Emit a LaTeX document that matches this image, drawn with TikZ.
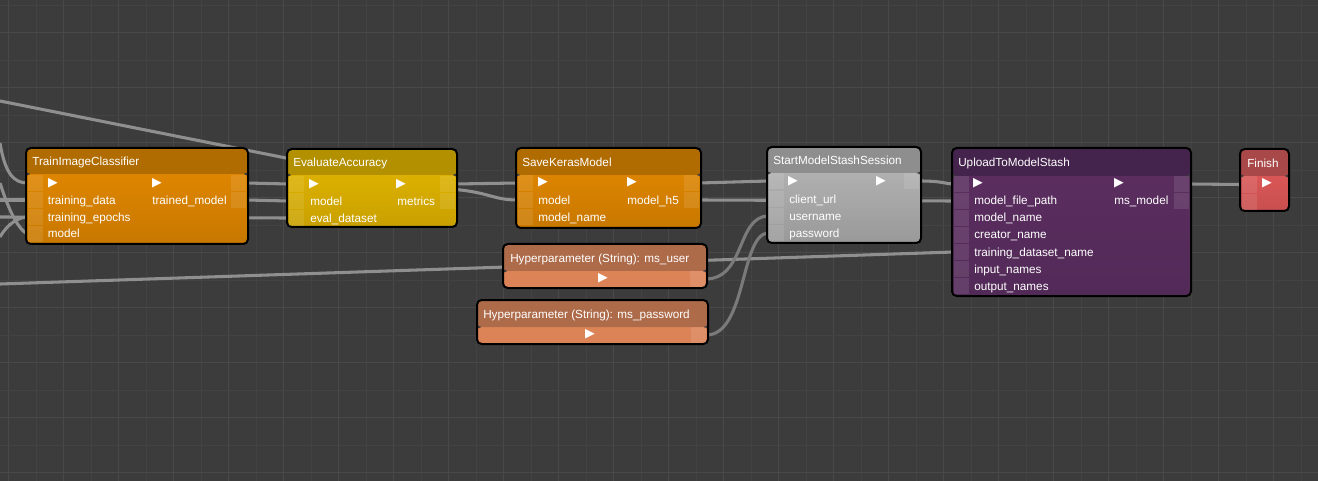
\documentclass[tikz,border=0pt]{standalone}
\usepackage{fontspec}
\setmainfont{Liberation Sans}
\newfontfamily\symbfont{DejaVu Sans}
\usetikzlibrary{fit,backgrounds}
\definecolor{canvasbg}{HTML}{3C3C3C}
\definecolor{gridlo}{HTML}{434343}
\definecolor{gridhi}{HTML}{494949}
\definecolor{wirelit}{HTML}{8F8F8F}
\definecolor{wiredim}{HTML}{7A7A7A}
\definecolor{orangehead}{HTML}{B06C00}
\definecolor{orangetop}{HTML}{E68A00}
\definecolor{orangebot}{HTML}{C87800}
\definecolor{yellowhead}{HTML}{B39000}
\definecolor{yellowtop}{HTML}{E6B800}
\definecolor{yellowbot}{HTML}{C8A000}
\definecolor{salmonhead}{HTML}{AD6B4A}
\definecolor{salmontop}{HTML}{E28859}
\definecolor{salmonbot}{HTML}{DA8256}
\definecolor{greyhead}{HTML}{8E8E8E}
\definecolor{greytop}{HTML}{B8B8B8}
\definecolor{greybot}{HTML}{999999}
\definecolor{plumhead}{HTML}{44234C}
\definecolor{plumtop}{HTML}{5C2E60}
\definecolor{plumbot}{HTML}{522A58}
\definecolor{redhead}{HTML}{A94848}
\definecolor{redtop}{HTML}{E65C5C}
\definecolor{redbot}{HTML}{C84F4F}
\tikzset{
	opbox/.style n args={4}{draw=black,line width=1.5pt,rounded corners=3.5pt,inner sep=0pt,
		path picture={
			\shade[top color=#1top,bottom color=#1bot] ([yshift=-#2*0.75pt]path picture bounding box.north west) rectangle (path picture bounding box.south east);
			\fill[#1head] (path picture bounding box.north west) rectangle ([yshift=-#2*0.75pt]path picture bounding box.north east);
		},fit={#3#4}},
	slot/.style={fill=white,fill opacity=0.1,minimum width=11.6pt,minimum height=12.1pt,inner sep=0pt},
	lbl/.style={anchor=base west,yshift=-3.1pt,text=white,inner sep=0pt,font=\fontsize{8.8}{10}\selectfont},
	exec/.style={text=white,inner sep=0pt,font=\symbfont\fontsize{9.5}{11}\selectfont},
	wire/.style={draw=#1,line width=2.3pt},
	wire/.default={wirelit},
}
\begin{document}
\begin{tikzpicture}[x=0.75pt,y=-0.75pt,line join=round]
	\useasboundingbox (0,0) rectangle (1318,481);
	% boxes
	\node[opbox={orange}{26}{(26,148)}{(248,244)}] (train) {};
	\node[opbox={yellow}{26}{(287,149)}{(457,227)}] (eval) {};
	\node[opbox={orange}{27}{(516,148)}{(701,228)}] (save) {};
	\node[opbox={salmon}{27}{(503,244)}{(707,288)}] (hpuser) {};
	\node[opbox={salmon}{27}{(477,300)}{(708,344)}] (hppass) {};
	\node[opbox={grey}{26}{(767,147)}{(921,243)}] (start) {};
	\node[opbox={plum}{28}{(952,148)}{(1191,296)}] (upload) {};
	\node[opbox={red}{27}{(1240,149)}{(1289,211)}] (finish) {};
	% port slots
	\foreach \n/\x/\y in {train-i1/27.5/183,train-i2/27.5/200,train-i3/27.5/217,train-i4/27.5/234,
		eval-i1/288.5/184,eval-i2/288.5/201,eval-i3/288.5/218,
		save-i1/517.5/183,save-i2/517.5/200,save-i3/517.5/217,
		start-i1/768.5/181,start-i2/768.5/199,start-i3/768.5/216,start-i4/768.5/233,
		upload-i1/953.5/184,upload-i2/953.5/201,upload-i3/953.5/218,upload-i4/953.5/235,upload-i5/953.5/252,upload-i6/953.5/269,upload-i7/953.5/286,
		finish-i1/1241.5/184.5,finish-i2/1241.5/202}
	\node[slot,anchor=west] (\n) at (\x,\y) {};
	\foreach \n/\x/\y in {train-o1/246.5/183,train-o2/246.5/200,
		eval-o1/455.5/184,eval-o2/455.5/201,
		save-o1/699.5/183,save-o2/699.5/200,
		hpuser-o/705.5/279,hppass-o/706.5/335,
		start-o1/919.5/181,
		upload-o1/1189.5/184,upload-o2/1189.5/201}
	\node[slot,anchor=east] (\n) at (\x,\y) {};
	% titles
	\foreach \n/\x/\y/\t in {train-t/32/161/TrainImageClassifier,eval-t/293/162/EvaluateAccuracy,save-t/522/162/SaveKerasModel,
		start-t/773/160/StartModelStashSession,upload-t/958/162/UploadToModelStash,finish-t/1247/163/Finish,
		hpuser-t/510/258/Hyperparameter (String): ms\_user,hppass-t/483/314/Hyperparameter (String): ms\_password}
	\node[lbl] (\n) at (\x,\y) {\t};
	% port labels
	\foreach \n/\x/\y/\t in {train-a/47.5/200/training\_data,train-b/47.5/217/training\_epochs,train-c/47.5/233/model,train-d/152/200/trained\_model,
		eval-a/310/201/model,eval-b/310/218/eval\_dataset,eval-c/397/201/metrics,
		save-a/538/200/model,save-b/538/217/model\_name,save-c/627/200/model\_h5,
		start-a/789/199/client\_url,start-b/789/216/username,start-c/789/233/password,
		upload-a/974/200/model\_file\_path,upload-b/974/217.5/model\_name,upload-c/974/234/creator\_name,upload-d/974/252/training\_dataset\_name,upload-e/974/269/input\_names,upload-f/974/286/output\_names,upload-g/1114/200/ms\_model}
	\node[lbl] (\n) at (\x,\y) {\t};
	% run triangles
	\foreach \n/\x/\y in {train-r/53/183,train-s/157/183,eval-r/314/184,eval-s/401/184,save-r/543/182.5,save-s/632/182.5,
		start-r/793/181,start-s/881/181,upload-r/978/183,upload-s/1119/183,finish-r/1267/183,hpuser-r/603/278,hppass-r/590/334}
	\node[exec] (\n) at (\x,\y) {▶};
	% free ends at the canvas edge
	\path (0,101) coordinate (far-a)
		(0,143) coordinate (far-b)
		(0,183) coordinate (far-c)
		(0,200) coordinate (far-d)
		(0,217) coordinate (far-e)
		(0,237) coordinate (far-f)
		(0,284) coordinate (far-g)
		(450,189) coordinate (evalback)
		;
	\begin{scope}[on background layer]
		\fill[canvasbg] (0,0) rectangle (1318,481);
		\foreach \x in {36,91,...,1318} \draw[gridlo] (\x,0)--(\x,481);
		\foreach \x in {8.5,63.5,...,1318} \draw[gridhi] (\x,0)--(\x,481);
		\foreach \y in {5,60,...,481} \draw[gridlo] (0,\y)--(1318,\y);
		\foreach \y in {32.5,87.5,...,481} \draw[gridhi] (0,\y)--(1318,\y);
		% connectors
		\draw[wire] (far-a)--(eval.west |- 0,158);
		\draw[wire] (far-b) .. controls +(5,30) and +(-14,0) .. (train-i1.west);
		\draw[wire] (far-c) .. controls +(8,25) and +(-10,-5) .. (train-i4.west);
		\draw[wire] (far-d)--(train-i2.west);
		\draw[wire] (far-e)--(eval-i3.west);
		\draw[wire] (far-f) .. controls +(8,-14) and +(-8,0) .. (train-i3.west);
		\draw[wire] (far-g)--(upload-i5.west);
		\draw[wire] (train-o1.east)--(eval-i1.west);
		\draw[wire] (train-o2.east)--(eval-i2.west);
		\draw[wire] (eval-o1.east)--(save-i1.west);
		\draw[wire] (evalback) .. controls +(40,3) and +(-25,0) .. (save-i2.west);
		\draw[wire] (save-o1.east)--(start-i1.west);
		\draw[wire] (save-o2.east)--(upload-i2.west);
		\draw[wire=wiredim] (hpuser-o.east) .. controls +(40,0) and +(-32,0) .. (start-i3.west);
		\draw[wire=wiredim] (hppass-o.east) .. controls +(40,0) and +(-28,0) .. (start-i4.west);
		\draw[wire] (start-o1.east) .. controls +(24,0) and +(-8,0) .. (upload-i1.west);
		\draw[wire] (upload-o1.east)--(finish-i1.west);
	\end{scope}
\end{tikzpicture}
\end{document}
